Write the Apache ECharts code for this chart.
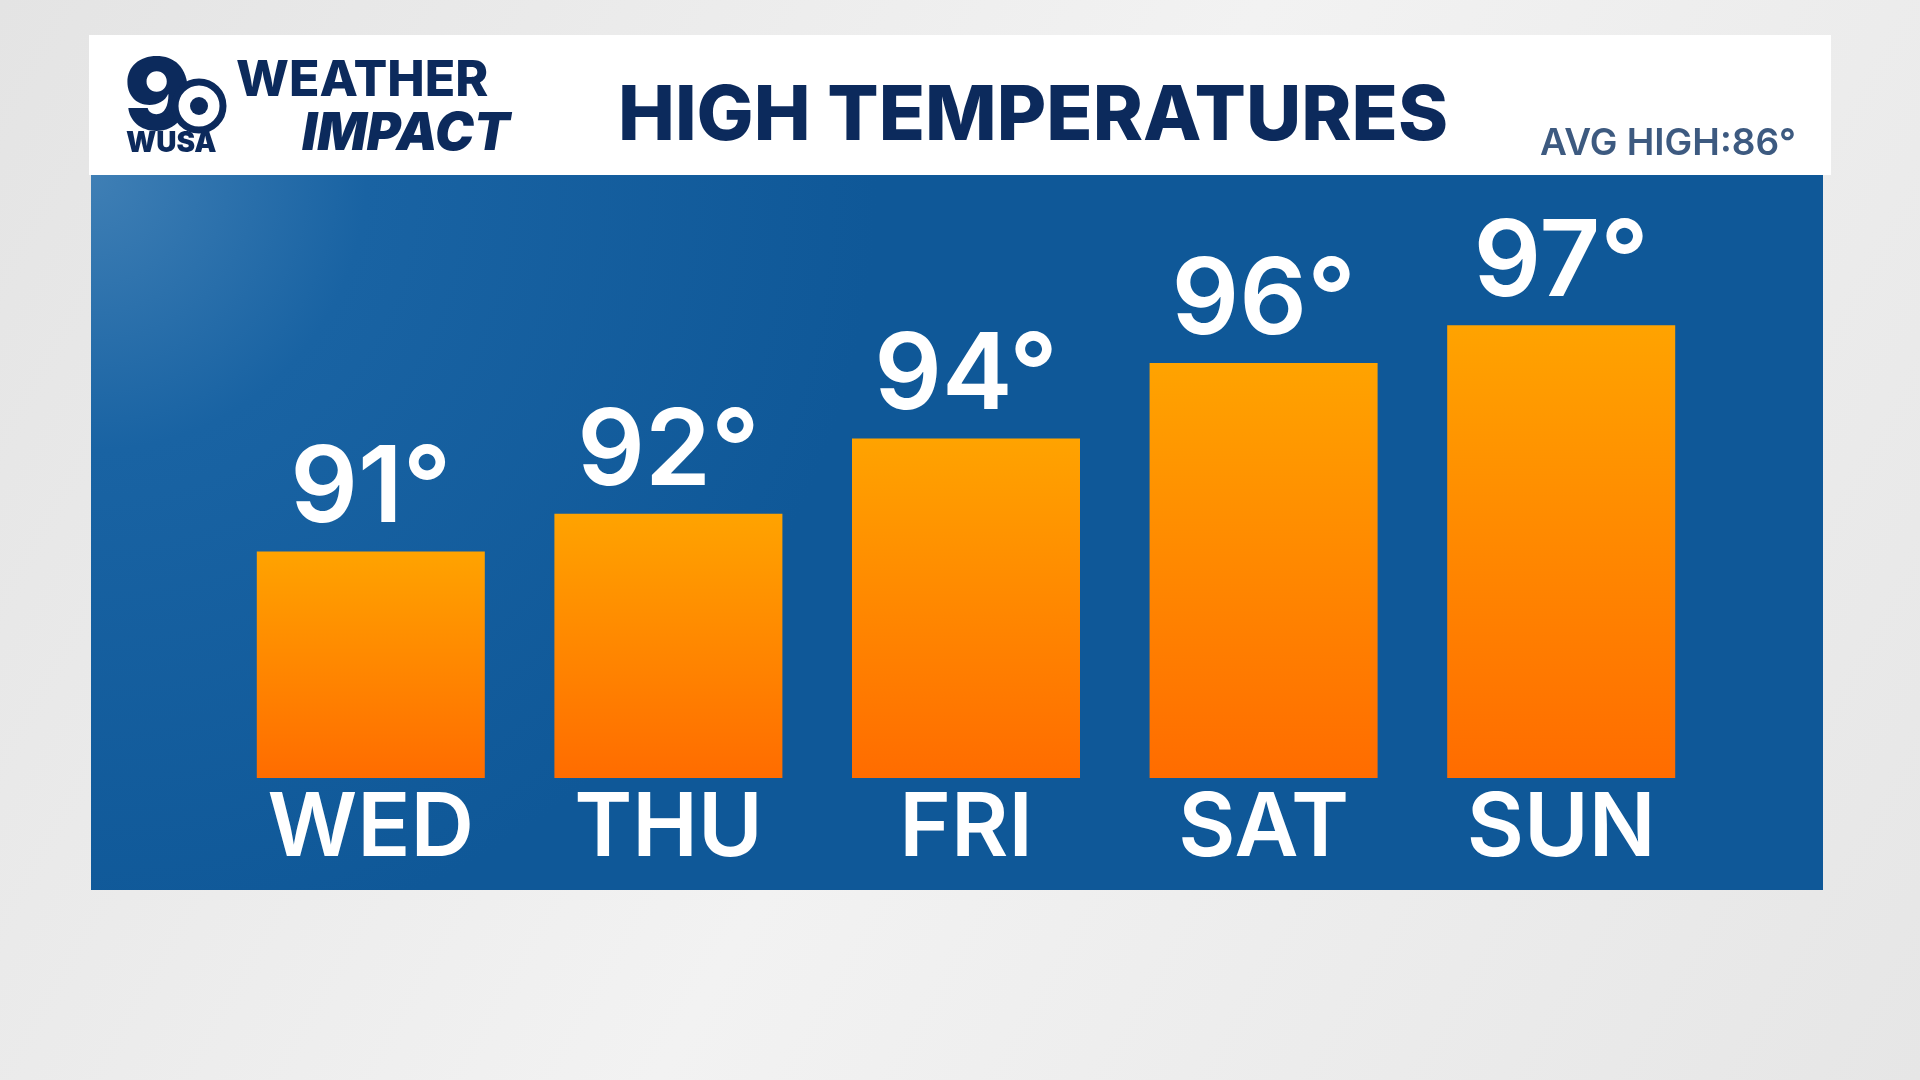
<!DOCTYPE html>
<html lang="en">
<head>
<meta charset="UTF-8">
<title>High Temperatures</title>
<script src="https://cdn.jsdelivr.net/npm/echarts@6/dist/echarts.min.js"></script>
<style>
  html, body { margin: 0; padding: 0; background: #ececec; }
  #main { width: 1920px; height: 1080px; }
</style>
</head>
<body>
<div id="main"></div>
<script>
const days = ['WED', 'THU', 'FRI', 'SAT', 'SUN'];
const highs = [91, 92, 94, 96, 97];
const avgHigh = 86;

const chart = echarts.init(document.getElementById('main'));
const font = 'Inter, "Noto Sans", sans-serif';

chart.setOption({
  backgroundColor: {
    type: 'linear', x: 0, y: 0, x2: 1, y2: 1,
    colorStops: [{ offset: 0, color: '#e4e4e4' }, { offset: 0.5, color: '#f2f2f2' }, { offset: 1, color: '#e6e6e6' }]
  },
  graphic: [
    // header strip
    { type: 'rect', shape: { x: 89, y: 35, width: 1742, height: 140 }, style: { fill: '#ffffff' }, z: -10 },
    // blue panel
    {
      type: 'rect', shape: { x: 91, y: 175, width: 1732, height: 715 }, z: -10,
      style: {
        fill: {
          type: 'radial', x: 0, y: 0, r: 1.1,
          colorStops: [{ offset: 0, color: '#3f7fb5' }, { offset: 0.35, color: '#1963a3' }, { offset: 1, color: '#0f5898' }]
        }
      }
    },
    { type: 'text', left: 618, top: 79, style: { text: 'HIGH TEMPERATURES', font: '800 76px ' + font, fill: '#0c2a5c' } },
    { type: 'text', right: 124, top: 125, style: { text: 'AVG HIGH:' + avgHigh + '°', font: '600 37px ' + font, fill: '#3d5a80' } },
    // logo
    { type: 'text', left: 124, top: 50, style: { text: '9', font: '900 100px ' + font, fill: '#0c2a5c' } },
    { type: 'circle', shape: { cx: 199, cy: 106, r: 24 }, style: { fill: '#fff', stroke: '#0c2a5c', lineWidth: 7 } },
    { type: 'circle', shape: { cx: 199, cy: 106, r: 9 }, style: { fill: '#0c2a5c' } },
    { type: 'text', left: 126, top: 130, style: { text: 'WUSA', font: '900 28px ' + font, fill: '#0c2a5c' } },
    { type: 'text', left: 236, top: 56, style: { text: 'WEATHER', font: '800 50px ' + font, fill: '#0c2a5c' } },
    { type: 'text', left: 302, top: 108, style: { text: 'IMPACT', font: 'italic 900 52px ' + font, fill: '#0c2a5c' } }
  ],
  grid: { left: 222, right: 210, top: 212, bottom: 302 },
  xAxis: {
    type: 'category',
    data: days,
    axisLine: { show: false },
    axisTick: { show: false },
    axisLabel: { color: '#ffffff', fontFamily: font, fontWeight: 600, fontSize: 88, margin: 8 }
  },
  yAxis: {
    type: 'value', min: 85, max: 100,
    show: false,
    splitLine: { show: false }
  },
  series: [{
    type: 'bar',
    data: highs,
    barWidth: 228,
    itemStyle: {
      color: {
        type: 'linear', x: 0, y: 0, x2: 0, y2: 1,
        colorStops: [{ offset: 0, color: '#ffa300' }, { offset: 1, color: '#ff6c00' }]
      }
    },
    label: {
      show: true, position: 'top', distance: 8,
      formatter: '{c}°',
      color: '#ffffff', fontFamily: font, fontWeight: 600, fontSize: 106
    }
  }]
});
</script>
</body>
</html>
